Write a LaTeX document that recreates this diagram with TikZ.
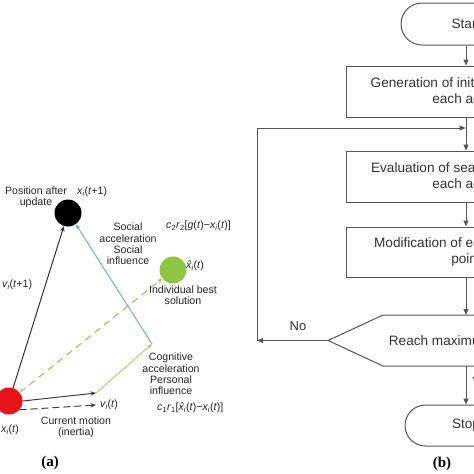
\documentclass[tikz,border=0pt]{standalone}
\usepackage{fontspec}
\setmainfont{Liberation Sans}
\newfontfamily\capfont{Liberation Serif}
\usetikzlibrary{arrows.meta,shapes.misc}
\definecolor{ptred}{HTML}{E8141A}
\definecolor{ptgreen}{HTML}{8DC63F}
\definecolor{dashgreen}{HTML}{A9C35C}
\definecolor{solgreen}{HTML}{B7CF72}
\definecolor{socblue}{HTML}{7FA9D0}
\definecolor{fline}{HTML}{555555}
\begin{document}
\begin{tikzpicture}[x=1pt,y=-1pt,
  lbl/.style={font=\fontsize{10.6}{11.2}\selectfont, align=center, inner sep=0pt, text=black!85},
  dot/.style={circle, minimum size=27pt, inner sep=0pt},
  thinarr/.style={line width=1pt, -{Stealth[length=5.5pt,width=4.5pt]}},
  fbox/.style={draw=fline, line width=1pt, align=center, inner sep=0pt,
     font=\fontsize{13.6}{16}\selectfont, text=black!80},
  term/.style={fbox, rounded rectangle},
  farr/.style={draw=fline, line width=1pt, -{Triangle[length=6pt,width=5pt]}},
  fline/.style={draw=fline, line width=1pt},
  caplbl/.style={font=\capfont\bfseries\fontsize{15}{16}\selectfont, inner sep=0pt}]
\useasboundingbox (0,0) rectangle (474,474);
\clip (0,0) rectangle (474,474);
\fill[white] (0,0) rectangle (474,474);

% ---------- panel (a) ----------
\node[dot, fill=ptred] (red) at (9,401) {};
\node[dot, fill=black] (blk) at (68,213) {};
\node[dot, fill=ptgreen] (grn) at (173,270) {};
\coordinate (vtip) at (96,393);
\coordinate (vdash) at (96,405);
\coordinate (cog) at (152,344);

\draw[thinarr, draw=black!80] (red) -- (blk);
\draw[thinarr, draw=dashgreen, dash pattern=on 7pt off 5pt, line width=1.1pt] (red) -- (grn);
\draw[thinarr, draw=black!75] (red.east) -- (vtip);
\draw[thinarr, draw=black!75, dash pattern=on 7pt off 4pt] (red.-40) -- (vdash);
\draw[thinarr, draw=solgreen] (vtip) -- (cog);
\draw[thinarr, draw=socblue] (cog) -- (blk.-55);

\node[lbl] (posl) at (36,197) {Position after\\update};
\node[lbl, anchor=west] (xt1) at (77,192) {\textit{x\textsubscript{i}}(\textit{t}+1)};
\node[lbl] (socl) at (128,244) {Social\\acceleration\\Social\\influence};
\node[lbl, anchor=west] (c2) at (166,226) {\textit{c}\textsubscript{2}\textit{r}\textsubscript{2}[\textit{g}(\textit{t})−\textit{x\textsubscript{i}}(\textit{t})]};
\node[lbl, anchor=west] (xhat) at (186,266) {\textit{\^{x}\textsubscript{i}}(\textit{t})};
\node[lbl] (ibest) at (183,295) {Individual best\\solution};
\node[lbl, anchor=west] (vt1) at (2,285) {\textit{v\textsubscript{i}}(\textit{t}+1)};
\node[lbl] (cogl) at (171,374) {Cognitive\\acceleration\\Personal\\influence};
\node[lbl, anchor=west] (vtl) at (100,405) {\textit{v\textsubscript{i}}(\textit{t})};
\node[lbl, anchor=west] (c1) at (157,408) {\textit{c}\textsubscript{1}\textit{r}\textsubscript{1}[\textit{\^{x}\textsubscript{i}}(\textit{t})−\textit{x\textsubscript{i}}(\textit{t})]};
\node[lbl] (curl) at (76,427) {Current motion\\(inertia)};
\node[lbl, anchor=west] (xt) at (1,430) {\textit{x\textsubscript{i}}(\textit{t})};
\node[caplbl] (capa) at (50,463) {(a)};

% ---------- panel (b) ----------
\node[term, minimum width=130pt, minimum height=42pt] (start) at (466,24) {Start};
\node[fbox, minimum width=240pt, minimum height=51pt] (gen) at (466,91.5) {Generation of initial condition of\\each agent};
\node[fbox, minimum width=240pt, minimum height=51pt] (eval) at (466,176.5) {Evaluation of searching point of\\each agent};
\node[fbox, minimum width=240pt, minimum height=50pt] (mod) at (466,252) {Modification of each searching\\point};
\draw[fline] (328,340.5) -- (383,315) -- (549,315) -- (604,340.5) -- (549,366) -- (383,366) -- cycle;
\node[inner sep=0pt, font=\fontsize{13.6}{16}\selectfont, text=black!80] (dec) at (466,340.5) {Reach maximum iteration};
\coordinate (decL) at (328,340.5);
\coordinate (decB) at (466,366);
\coordinate (decT) at (466,315);
\node[term, minimum width=122pt, minimum height=41pt] (stop) at (466,425.5) {Stop};

\coordinate (noend) at (257,340.5);
\coordinate (fbin) at (465.5,128);

\draw[farr] (start.south) -- (gen.north);
\draw[farr] (gen.south) -- (eval.north);
\draw[farr] (eval.south) -- (mod.north);
\draw[farr] (mod.south) -- (decT);
\draw[farr] (decB) -- (stop.north);
\draw[farr] (decL) -- (noend);
\draw[farr] (noend) |- (fbin);

\node[inner sep=0pt, font=\fontsize{13}{14}\selectfont, text=black!80] (nol) at (298,326) {No};
\node[inner sep=0pt, anchor=west, font=\fontsize{13}{14}\selectfont, text=black!80] (yesl) at (472,382) {Yes};
\node[caplbl] (capb) at (442,464) {(b)};
\end{tikzpicture}
\end{document}
